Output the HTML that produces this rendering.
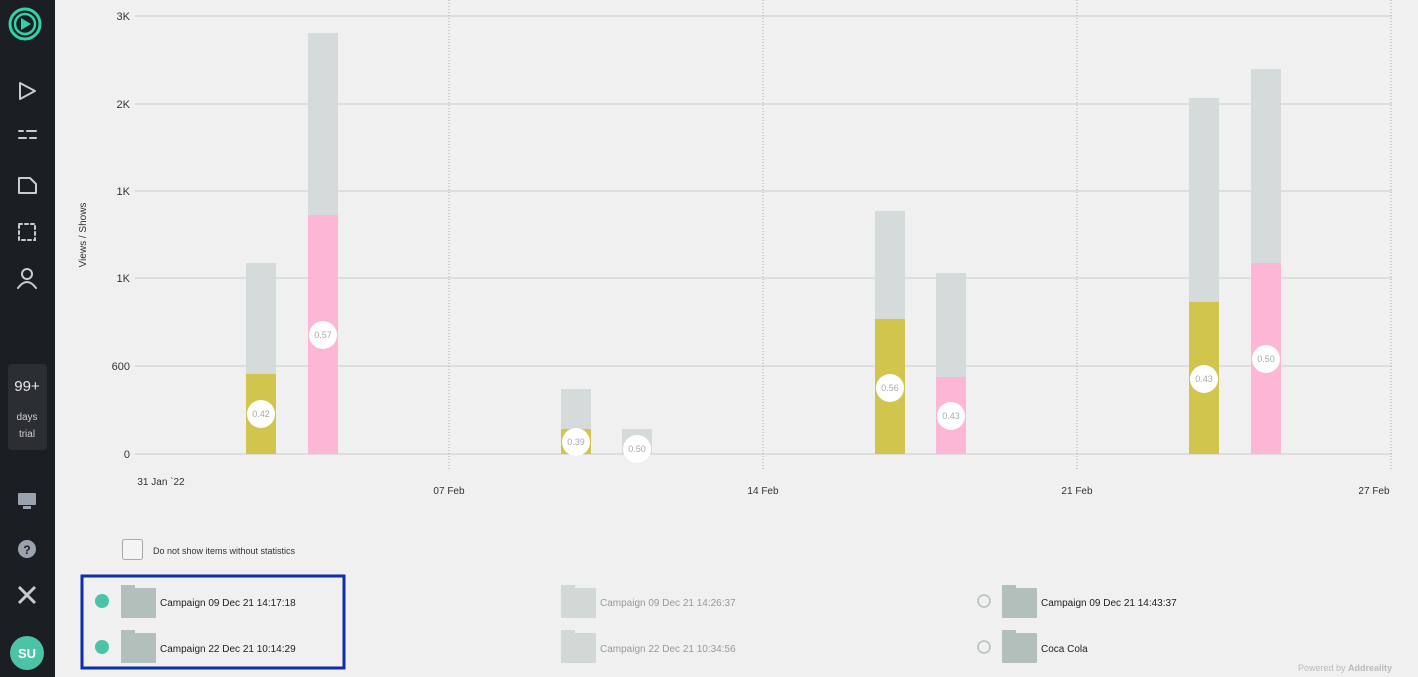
<!DOCTYPE html>
<html><head><meta charset="utf-8"><style>
body{margin:0;width:1418px;height:677px;overflow:hidden;background:#f0f0f0;font-family:"Liberation Sans",sans-serif;}
</style></head><body>
<svg width="1418" height="677" xmlns="http://www.w3.org/2000/svg" style="position:absolute;left:0;top:0">
<rect x="0" y="0" width="1418" height="677" fill="#f0f0f0"/>
<rect x="0" y="0" width="55" height="677" fill="#1b1e22"/>
<circle cx="25" cy="24" r="15" fill="none" stroke="#2fd3a5" stroke-width="3"/>
<circle cx="25" cy="24" r="10" fill="none" stroke="#2fd3a5" stroke-width="2.5"/>
<path d="M21 18 L31 24 L21 30 Z" fill="#2fd3a5"/>
<g fill="none" stroke="#c8ccd0" stroke-width="2" stroke-linecap="round">
<path d="M20 83 L35 91 L20 99 Z" stroke-linejoin="round"/>
<path d="M27 131 H36 M19 131 H23 M19 138 H26 M30 138 H36"/>
<path d="M19 178 H30 L36 184 V193 H19 Z" stroke-linejoin="round"/>
<rect x="19" y="224" width="16" height="16" stroke-dasharray="3 3"/>
<circle cx="27" cy="274" r="5"/><path d="M18 288 Q27 276 36 288"/>
</g>
<rect x="8" y="364" width="39" height="86" rx="4" fill="#2b2f34"/>
<text x="27" y="391" fill="#e8e8e8" font-size="15" text-anchor="middle">99+</text>
<text x="27" y="420" fill="#d0d0d0" font-size="10" text-anchor="middle">days</text>
<text x="27" y="437" fill="#d0d0d0" font-size="10" text-anchor="middle">trial</text>
<rect x="18" y="493" width="18" height="12" rx="1" fill="#9aa3ad"/><rect x="23" y="506" width="8" height="3" fill="#9aa3ad"/>
<circle cx="27" cy="549" r="9" fill="#9aa3ad"/><text x="27" y="554" fill="#1b1e22" font-size="12" font-weight="bold" text-anchor="middle">?</text>
<path d="M19 587 L35 603 M35 587 L19 603" stroke="#c8ccd0" stroke-width="3"/>
<circle cx="27" cy="653" r="17" fill="#4cc3a7"/><text x="27" y="658" fill="#fff" font-size="13" font-weight="bold" text-anchor="middle">SU</text>
<g stroke="#cdcdcd" stroke-width="1">
<line x1="135" y1="16" x2="1392" y2="16"/><line x1="135" y1="104" x2="1392" y2="104"/>
<line x1="135" y1="191" x2="1392" y2="191"/><line x1="135" y1="278" x2="1392" y2="278"/>
<line x1="135" y1="366" x2="1392" y2="366"/><line x1="135" y1="454" x2="1392" y2="454"/>
</g>
<g stroke="#a8a8a8" stroke-width="1" stroke-dasharray="1 2">
<line x1="449" y1="0" x2="449" y2="470"/><line x1="763" y1="0" x2="763" y2="470"/>
<line x1="1077" y1="0" x2="1077" y2="470"/><line x1="1391" y1="0" x2="1391" y2="470"/>
</g>
<g font-size="11" fill="#333" text-anchor="end">
<text x="130" y="20">3K</text><text x="130" y="108">2K</text><text x="130" y="195">1K</text>
<text x="130" y="282">1K</text><text x="130" y="370">600</text><text x="130" y="458">0</text>
</g>
<text transform="translate(86,235) rotate(-90)" font-size="10" fill="#333" text-anchor="middle">Views / Shows</text>
<g font-size="10" fill="#333" text-anchor="middle">
<text x="161" y="485">31 Jan `22</text><text x="449" y="494">07 Feb</text><text x="763" y="494">14 Feb</text>
<text x="1077" y="494">21 Feb</text><text x="1374" y="494">27 Feb</text>
</g>
<g fill="#d5dbdb">
<rect x="246" y="263" width="30" height="191"/><rect x="308" y="33" width="30" height="421"/>
<rect x="561" y="389" width="30" height="65"/><rect x="622" y="429" width="30" height="25"/>
<rect x="875" y="211" width="30" height="243"/><rect x="936" y="273" width="30" height="181"/>
<rect x="1189" y="98" width="30" height="356"/><rect x="1251" y="69" width="30" height="385"/>
</g>
<g fill="#d2c54d">
<rect x="246" y="374" width="30" height="80"/><rect x="561" y="429" width="30" height="25"/>
<rect x="875" y="319" width="30" height="135"/><rect x="1189" y="302" width="30" height="152"/>
</g>
<g fill="#fdb6d5">
<rect x="308" y="215" width="30" height="239"/><rect x="936" y="377" width="30" height="77"/>
<rect x="1251" y="263" width="30" height="191"/>
</g>
<g fill="#fff">
<circle cx="261" cy="414" r="14"/><circle cx="323" cy="335" r="14"/><circle cx="576" cy="442" r="14"/>
<circle cx="637" cy="449" r="14"/><circle cx="890" cy="388" r="14"/><circle cx="951" cy="416" r="14"/>
<circle cx="1204" cy="379" r="14"/><circle cx="1266" cy="359" r="14"/>
</g>
<g font-size="9" fill="#aaa" text-anchor="middle">
<text x="261" y="417">0.42</text><text x="323" y="338">0.57</text><text x="576" y="445">0.39</text>
<text x="637" y="452">0.50</text><text x="890" y="391">0.56</text><text x="951" y="419">0.43</text>
<text x="1204" y="382">0.43</text><text x="1266" y="362">0.50</text>
</g>
<rect x="122.5" y="539.5" width="20" height="20" rx="2" fill="#f4f4f4" stroke="#aaa"/>
<text x="153" y="554" font-size="9" fill="#333">Do not show items without statistics</text>
<rect x="82" y="576" width="262" height="92" fill="none" stroke="#0d2fa8" stroke-width="3"/>
<circle cx="102" cy="601" r="7" fill="#4cc3a7"/><circle cx="102" cy="647" r="7" fill="#4cc3a7"/>
<g fill="#b3bfba">
<rect x="121" y="585" width="14" height="5"/><rect x="121" y="588" width="35" height="30" rx="1"/>
<rect x="121" y="630" width="14" height="5"/><rect x="121" y="633" width="35" height="30" rx="1"/>
<rect x="1002" y="585" width="14" height="5"/><rect x="1002" y="588" width="35" height="30" rx="1"/>
<rect x="1002" y="630" width="14" height="5"/><rect x="1002" y="633" width="35" height="30" rx="1"/>
</g>
<g fill="#d1d8d5">
<rect x="561" y="585" width="14" height="5"/><rect x="561" y="588" width="35" height="30" rx="1"/>
<rect x="561" y="630" width="14" height="5"/><rect x="561" y="633" width="35" height="30" rx="1"/>
</g>
<circle cx="984" cy="601" r="6" fill="none" stroke="#b5bdb9" stroke-width="1.5"/>
<circle cx="984" cy="647" r="6" fill="none" stroke="#b5bdb9" stroke-width="1.5"/>
<g font-size="10" fill="#222">
<text x="160" y="606">Campaign 09 Dec 21 14:17:18</text><text x="160" y="652">Campaign 22 Dec 21 10:14:29</text>
<text x="1041" y="606">Campaign 09 Dec 21 14:43:37</text><text x="1041" y="652">Coca Cola</text>
</g>
<g font-size="10" fill="#999">
<text x="600" y="606">Campaign 09 Dec 21 14:26:37</text><text x="600" y="652">Campaign 22 Dec 21 10:34:56</text>
</g>
<text x="1298" y="671" font-size="9" fill="#bbb">Powered by  <tspan font-weight="bold">Addreality</tspan></text>
</svg>
</body></html>
